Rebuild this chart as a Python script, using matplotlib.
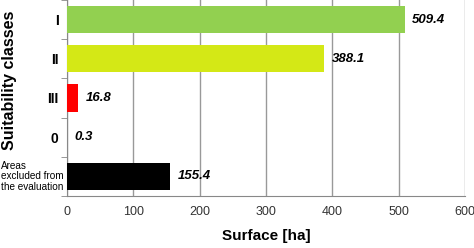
import matplotlib.pyplot as plt
import matplotlib.transforms as mtransforms
import numpy as np

classes = ['I', 'II', 'III', '0', 'Areas\nexcluded from\nthe evaluation']
surface = [509.4, 388.1, 16.8, 0.3, 155.4]
colors = ['#92d050', '#d4e816', '#ff0000', '#ffffff', '#000000']
xticks = [0, 100, 200, 300, 400, 500, 600]

plt.rcParams['font.family'] = ['Liberation Sans', 'DejaVu Sans']

fig = plt.figure(figsize=(4.74, 2.48), dpi=100)
ax = fig.add_axes([0.1414, 0.21, 0.8396, 0.79])

y = np.arange(len(classes))[::-1]
ax.barh(y, surface, height=0.7, color=colors, zorder=3)

for yi, v in zip(y, surface):
    ax.text(v + 11, yi, '%.1f' % v, va='center', ha='left',
            fontsize=9.5, fontweight='bold', fontstyle='italic', zorder=4)

ax.set_xlim(0, 600)
ax.set_ylim(-0.5, len(classes) - 0.5)
ax.set_xticks(xticks)
ax.set_xticklabels([str(t) for t in xticks], fontsize=9, color='#333333')
ax.set_yticks(y)
# the long label is drawn by hand, left-aligned at the figure edge
ax.set_yticklabels([c if not c.startswith('Areas') else '' for c in classes],
                   fontsize=10, fontweight='bold')
trans = mtransforms.blended_transform_factory(fig.transFigure, ax.transData)
ax.text(1 / 474, y[-1], classes[-1], transform=trans, ha='left', va='center',
        fontsize=7.2, linespacing=1.1, multialignment='left')

# tick marks between categories
ax.set_yticks(np.arange(-0.5, len(classes), 1.0), minor=True)
ax.tick_params(axis='y', which='major', length=0, pad=6)
ax.tick_params(axis='y', which='minor', length=4, color='#888888')
ax.tick_params(axis='x', length=0, pad=7)

ax.grid(axis='x', color='#999999', linewidth=1, zorder=0)
for s in ['top', 'right']:
    ax.spines[s].set_visible(False)
ax.spines['left'].set_color('#888888')
ax.spines['bottom'].set_color('#888888')

ax.set_xlabel('Surface [ha]', fontsize=11, fontweight='bold', labelpad=8)
fig.text(10 / 474, 1 - 80 / 248, 'Suitability classes', rotation=90,
         ha='center', va='center', fontsize=11.5, fontweight='bold')

fig.savefig('out.png', dpi=100)
